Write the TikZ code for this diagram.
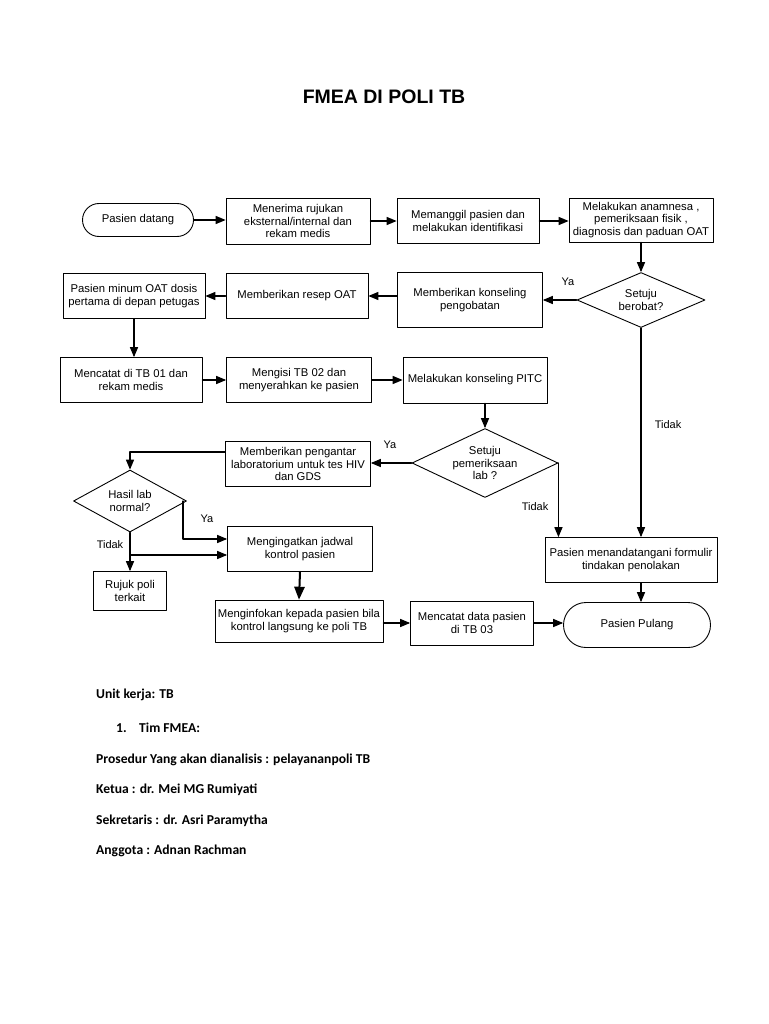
\documentclass[tikz,border=0pt]{standalone}
\usepackage{fontspec}
\setmainfont{Liberation Sans}
\newfontfamily\calibri{Carlito}
\usetikzlibrary{arrows,shapes.geometric,shapes.misc}

\begin{document}
\begin{tikzpicture}[line cap=round,line join=round,>=triangle 45,x=1pt,y=-1pt,
	kotak/.style={draw,line width=0.9pt,align=center,inner sep=1pt,font=\fontsize{11.3}{12.5}\selectfont},
	mulai/.style={kotak,rounded rectangle},
	keputusan/.style={kotak,diamond,aspect=2},
	panah/.style={->,line width=1.3pt},
	ket/.style={font=\fontsize{11}{13}\selectfont},
	isian/.style={anchor=base west,inner sep=0pt,font=\calibri\bfseries\fontsize{13.6}{16}\selectfont}]
	\useasboundingbox (0,0) rectangle (768,1024);
	\node[font=\bfseries\fontsize{19.5}{22}\selectfont] (judul) at (384,97) {FMEA DI POLI TB};
	% baris pertama
	\node[mulai,minimum width=113,minimum height=33] (datang) at (138,220) {Pasien datang};
	\node[kotak,minimum width=144,minimum height=46] (terima) at (298,221) {Menerima rujukan\\eksternal/internal dan\\rekam medis};
	\node[kotak,minimum width=142,minimum height=45] (panggil) at (468,221) {Memanggil pasien dan\\melakukan identifikasi};
	\node[kotak,minimum width=144,minimum height=44] (anamnesa) at (641,220) {Melakukan anamnesa ,\\pemeriksaan fisik ,\\diagnosis dan paduan OAT};
	% baris kedua
	\node[keputusan,minimum width=128,minimum height=55] (berobat) at (641,300) {Setuju\\berobat?};
	\node[kotak,minimum width=145,minimum height=55] (konseling) at (470,300) {Memberikan konseling\\pengobatan};
	\node[kotak,minimum width=142,minimum height=45] (resep) at (297,296) {Memberikan resep OAT};
	\node[kotak,minimum width=142,minimum height=45] (minum) at (134,296) {Pasien minum OAT dosis\\pertama di depan petugas};
	% baris ketiga
	\node[kotak,minimum width=142,minimum height=45] (tb01) at (131,380) {Mencatat di TB 01 dan\\rekam medis};
	\node[kotak,minimum width=145,minimum height=45] (tb02) at (299,380) {Mengisi TB 02 dan\\menyerahkan ke pasien};
	\node[kotak,minimum width=144,minimum height=46] (pitc) at (475,380) {Melakukan konseling PITC};
	% pemeriksaan lab
	\node[keputusan,minimum width=146,minimum height=69] (lab) at (485,463) {Setuju\\pemeriksaan\\lab ?};
	\node[kotak,minimum width=145,minimum height=45] (pengantar) at (298,464) {Memberikan pengantar\\laboratorium untuk tes HIV\\dan GDS};
	\node[keputusan,minimum width=113,minimum height=62] (hasil) at (130,501) {Hasil lab\\normal?};
	\node[kotak,minimum width=145,minimum height=45] (ingat) at (300,549) {Mengingatkan jadwal\\kontrol pasien};
	\node[kotak,minimum width=73,minimum height=39] (rujuk) at (130,591) {Rujuk poli\\terkait};
	\node[kotak,minimum width=172,minimum height=45] (tolak) at (631,560) {Pasien menandatangani formulir\\tindakan penolakan};
	% baris terakhir
	\node[kotak,minimum width=168,minimum height=42] (info) at (299,621) {Menginfokan kepada pasien bila\\kontrol langsung ke poli TB};
	\node[kotak,minimum width=123,minimum height=44] (tb03) at (472,623) {Mencatat data pasien\\di TB 03};
	\node[mulai,minimum width=149,minimum height=45] (pulang) at (637,625) {Pasien Pulang};
	\coordinate (cabang) at (130,555);
	% panah
	\draw[panah] (datang.east) -- (datang.east -| terima.west);
	\draw[panah] (terima.east) -- (terima.east -| panggil.west);
	\draw[panah] (panggil.east) -- (panggil.east -| anamnesa.west);
	\draw[panah] (anamnesa.south) -- (berobat.north);
	\draw[panah] (berobat.west) -- (berobat.west -| konseling.east);
	\draw[panah] (konseling.west |- resep.east) -- (resep.east);
	\draw[panah] (resep.west) -- (minum.east);
	\draw[panah] (minum.south) -- (minum.south |- tb01.north);
	\draw[panah] (tb01.east) -- (tb02.west);
	\draw[panah] (tb02.east) -- (tb02.east -| pitc.west);
	\draw[panah] (lab.north |- pitc.south) -- (lab.north);
	\draw[panah] (lab.west) -- (lab.west -| pengantar.east);
	\draw[panah] ([yshift=12pt]pengantar.west) -| (hasil.north);
	\draw[panah] ([xshift=-4pt]hasil.east) |- ([yshift=10pt]ingat.west);
	\draw[panah] (hasil.south) -- (rujuk.north);
	\draw[panah] (cabang) -- (cabang -| ingat.west);
	\draw[panah,line width=2pt] (ingat.south) -- (info.north);
	\draw[panah] (info.east |- tb03.west) -- (tb03.west);
	\draw[panah] (tb03.east) -- (tb03.east -| pulang.west);
	\draw[panah] (berobat.south) -- (berobat.south |- tolak.north);
	\draw[panah] (lab.east) -- (lab.east |- tolak.north);
	\draw[panah] (berobat.south |- tolak.south) -- (berobat.south |- pulang.north);
	% keterangan
	\node[ket] (ya1) at (568,282) {Ya};
	\node[ket] (ya2) at (390,445) {Ya};
	\node[ket] (ya3) at (207,519) {Ya};
	\node[ket] (tidak1) at (668,425) {Tidak};
	\node[ket] (tidak2) at (535,507) {Tidak};
	\node[ket] (tidak3) at (110,545) {Tidak};
	% tim FMEA
	\node[isian] (unit) at (96,698) {Unit kerja: TB};
	\node[isian] (nomor) at (116,732) {1.};
	\node[isian] (tim) at (139,732) {Tim FMEA:};
	\node[isian] (prosedur) at (96,763) {Prosedur Yang akan dianalisis : pelayananpoli TB};
	\node[isian] (ketua) at (96,793) {Ketua : dr. Mei MG Rumiyati};
	\node[isian] (sekretaris) at (96,824) {Sekretaris : dr. Asri Paramytha};
	\node[isian] (anggota) at (96,854) {Anggota : Adnan Rachman};
\end{tikzpicture}
\end{document}
